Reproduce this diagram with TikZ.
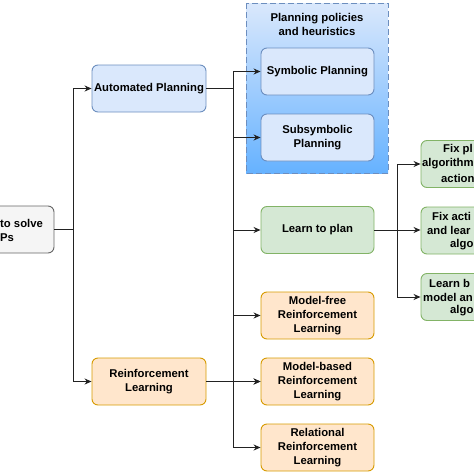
\documentclass[tikz,border=0pt]{standalone}
\usepackage{fontspec}
\setmainfont{Liberation Sans}
\usetikzlibrary{arrows.meta}
\definecolor{bfill}{HTML}{DAE8FC}
\definecolor{bline}{HTML}{6C8EBF}
\definecolor{gfill}{HTML}{D5E8D4}
\definecolor{gline}{HTML}{82B366}
\definecolor{ofill}{HTML}{FFE6CC}
\definecolor{oline}{HTML}{D79B00}
\definecolor{wfill}{HTML}{F5F5F5}
\definecolor{wline}{HTML}{666666}
\definecolor{ctop}{HTML}{DAE8FC}
\definecolor{cbot}{HTML}{66B2FF}
\definecolor{conn}{HTML}{222222}
\begin{document}
\begin{tikzpicture}[x=1pt,y=-1pt,
  box/.style={draw, rounded corners=6pt, line width=0.9pt, minimum width=113pt, minimum height=47pt,
    inner sep=2pt, align=center, font=\bfseries\fontsize{11.3}{14}\selectfont},
  bluebox/.style={box, fill=bfill, draw=bline},
  greenbox/.style={box, fill=gfill, draw=gline},
  orangebox/.style={box, fill=ofill, draw=oline},
  graybox/.style={box, fill=wfill, draw=wline},
  frag/.style={anchor=west, inner sep=0pt, font=\bfseries\fontsize{11.3}{14}\selectfont},
  arr/.style={draw=conn, line width=1pt, -{Stealth[length=7pt,width=6pt]}},
  ln/.style={draw=conn, line width=1pt}
]
\useasboundingbox (0,0) rectangle (474,474);

% container
\path[top color=ctop, bottom color=cbot] (246,3) rectangle (388,173);
\draw[bline, line width=1pt, dash pattern=on 6pt off 3pt] (246,3) rectangle (388,173);
\node[font=\bfseries\fontsize{11.3}{14}\selectfont, align=center] (ctitle) at (317,24.5) {Planning policies\\and heuristics};

% nodes
\node[graybox, minimum width=114pt] (root) at (-3,229.5) {};
\node[frag] (rt1) at (0,223) {to solve};
\node[frag] (rt2) at (0,238) {Ps};

\node[bluebox, minimum width=114pt] (ap) at (149,88.5) {Automated Planning};
\node[orangebox, minimum width=114pt] (rl) at (149,381.5) {Reinforcement\\Learning};

\node[bluebox] (sym) at (317.5,71.5) {Symbolic Planning};
\node[bluebox] (sub) at (317.5,137.5) {Subsymbolic\\Planning};
\node[greenbox] (ltp) at (317.5,230) {Learn to plan};
\node[orangebox] (mf) at (317.5,315.5) {Model-free\\Reinforcement\\Learning};
\node[orangebox] (mb) at (317.5,381.5) {Model-based\\Reinforcement\\Learning};
\node[orangebox] (rel) at (317.5,447.5) {Relational\\Reinforcement\\Learning};

\node[greenbox] (r1) at (477.5,164) {};
\node[greenbox] (r2) at (477.5,230.5) {};
\node[greenbox] (r3) at (477.5,297) {};
\node[frag] (r1a) at (443,150) {Fix pl};
\node[frag] (r1b) at (422,164) {algorithm};
\node[frag] (r1c) at (441,178) {action};
\node[frag] (r2a) at (432,216.5) {Fix acti};
\node[frag] (r2b) at (427,230.5) {and lear};
\node[frag] (r2c) at (450,244.5) {algo};
\node[frag] (r3a) at (429,283) {Learn b};
\node[frag] (r3b) at (423,297) {model an};
\node[frag] (r3c) at (450,311) {algo};

% junctions
\coordinate (j1) at (73,229.5);
\coordinate (j2) at (233,88.5);
\coordinate (j4) at (397,230);

% connectors
\draw[ln] (root.east) -- (j1);
\draw[arr] (j1) |- (ap.west);
\draw[arr] (j1) |- (rl.west);

\draw[ln] (ap.east) -- (j2);
\draw[arr] (j2) |- (sym.west);
\draw[arr] (j2) |- (sub.west);
\draw[arr] (j2) |- (ltp.west);
\draw[arr] (j2) |- (mf.west);
\draw[arr] (j2) |- (mb.west);
\draw[arr] (j2) |- (rel.west);
\draw[arr] (rl.east) -- (mb.west);

\draw[ln] (ltp.east) -- (j4);
\draw[arr] (j4) |- (r1.west);
\draw[arr] (j4) -- (r2.west |- j4);
\draw[arr] (j4) |- (r3.west);
\end{tikzpicture}
\end{document}
